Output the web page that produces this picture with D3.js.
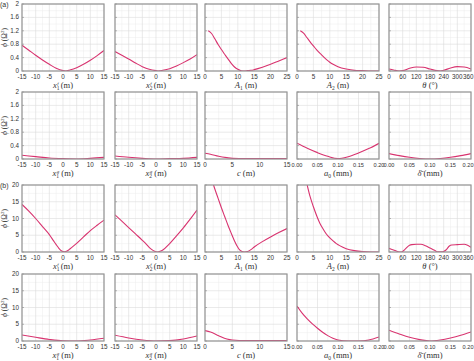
<!DOCTYPE html>
<html><head><meta charset="utf-8">
<script src="https://cdn.jsdelivr.net/npm/d3@7"></script>
<style>body{margin:0;background:#fff}svg{display:block}</style>
</head><body>
<svg id="c" width="474" height="361"></svg>
<script>
// ---------- data ----------
const xTicksPos = [-15,-10,-5,0,5,10,15];
const xTicksA = [0,5,10,15,20,25];
const xTicksTheta = [0,60,120,180,240,300,360];
const xTicksC = [0,5,10,15];
const xTicksMM = [0,0.05,0.10,0.15,0.20];
const yTicksA = [0,0.4,0.8,1.2,1.6,2];
const yTicksB = [0,5,10,15,20];

// (a) row 1
const a_x1f = [[-15,0.77],[-12.5,0.62],[-10,0.47],[-7.5,0.33],[-5,0.2],[-2.5,0.08],[0,0.01],[1,0.0],[2.5,0.03],[5,0.1],[7.5,0.2],[10,0.32],[12.5,0.46],[15,0.61]];
const a_x2f = [[-15,0.58],[-12.5,0.47],[-10,0.36],[-7.5,0.24],[-5,0.13],[-2.5,0.05],[0,0.01],[1,0.0],[2.5,0.02],[5,0.07],[7.5,0.15],[10,0.25],[12.5,0.36],[15,0.49]];
const a_A1 = [[1,1.2],[2,1.12],[3,0.96],[4,0.79],[5,0.64],[6,0.5],[7,0.36],[8,0.23],[9,0.12],[10,0.05],[11,0.01],[12,0.0],[13,0.01],[14,0.02],[15,0.04],[17.5,0.11],[20,0.2],[22.5,0.3],[25,0.4]];
const a_A2 = [[1,1.2],[2,1.13],[3,1.0],[4,0.87],[5,0.75],[6,0.63],[7.5,0.48],[9,0.34],[10,0.26],[11,0.2],[12.5,0.13],[15,0.06],[17.5,0.02],[20,0.01],[22.5,0.0],[25,0.0]];
const a_theta = [[0,0.06],[20,0.03],[45,0.0],[60,0.01],[90,0.08],[120,0.12],[150,0.11],[180,0.06],[210,0.01],[225,0.0],[240,0.02],[270,0.09],[300,0.13],[330,0.12],[360,0.06]];
// (a) row 2
const a_x1g = [[-15,0.11],[-10,0.07],[-5,0.03],[0,0.01],[5,0.0],[10,0.02],[15,0.05]];
const a_x2g = [[-15,0.09],[-10,0.05],[-5,0.02],[0,0.0],[5,0.01],[10,0.02],[15,0.05]];
const a_c = [[0,0.17],[1,0.14],[2.5,0.08],[4,0.04],[5,0.02],[7.5,0.01],[10,0.01],[15,0.01]];
const a_a0 = [[0,0.47],[0.025,0.32],[0.05,0.19],[0.075,0.08],[0.1,0.01],[0.125,0.07],[0.15,0.18],[0.175,0.31],[0.2,0.47]];
const a_delta = [[0,0.16],[0.025,0.1],[0.05,0.05],[0.075,0.015],[0.1,0.0],[0.125,0.015],[0.15,0.05],[0.175,0.1],[0.2,0.16]];
// (b) row 3
const b_x1f = [[-15,14.2],[-12.5,12.2],[-10,10],[-7.5,7.6],[-5,5.2],[-3.5,3.4],[-2.5,2.2],[-1.5,1.1],[-0.5,0.3],[0.5,0.05],[1.5,0.3],[2.5,0.9],[4,1.9],[5,2.6],[7.5,4.5],[10,6.4],[12.5,8.0],[15,9.5]];
const b_x2f = [[-15,11.1],[-12.5,9.2],[-10,7.3],[-7.5,5.4],[-5,3.5],[-3.5,2.3],[-2.5,1.4],[-1.5,0.7],[-0.5,0.2],[0.5,0.0],[1.5,0.2],[2.5,0.6],[5,2.5],[7.5,4.8],[10,7.2],[12.5,9.8],[15,12.5]];
const b_A1 = [[2.6,20],[3,18.8],[4,16],[5,13.2],[6,10.6],[7,8],[8,5.6],[9,3.3],[10,1.4],[10.5,0.7],[11,0.3],[12,0.0],[13,0.15],[14,0.7],[15,1.5],[17.5,3.1],[20,4.5],[22.5,5.8],[25,7.0]];
const b_A2 = [[3.1,20],[4,16.5],[5,13.5],[6,10.8],[7,8.5],[8,6.8],[9,5.3],[10,4.2],[11,3.3],[12,2.5],[13,1.9],[15,1.0],[17.5,0.4],[20,0.1],[22.5,0.0],[25,0.0]];
const b_theta = [[0,1.1],[20,0.6],[40,0.1],[55,0.0],[70,0.8],[90,2.0],[100,2.2],[120,2.3],[140,2.3],[160,1.9],[180,1.2],[200,0.5],[215,0.05],[235,0.05],[250,0.6],[265,1.8],[275,2.1],[300,2.2],[330,2.3],[345,2.0],[360,1.4]];
// (b) row 4
const b_x1g = [[-15,1.8],[-10,1.1],[-5,0.45],[0,0.05],[5,0.0],[10,0.3],[15,0.8]];
const b_x2g = [[-15,1.7],[-10,0.9],[-5,0.3],[0,0.0],[5,0.1],[10,0.6],[15,1.5]];
const b_c = [[0,3.1],[1,2.7],[2.5,1.6],[4,0.6],[5,0.3],[7.5,0.1],[10,0.1],[15,0.15]];
const b_a0 = [[0,10.4],[0.0125,8.3],[0.025,6.6],[0.0375,5.1],[0.05,3.8],[0.0625,2.6],[0.075,1.6],[0.0875,0.8],[0.1,0.3],[0.125,0.0],[0.15,0.0],[0.175,0.3],[0.2,1.2]];
const b_delta = [[0,3.2],[0.025,2.1],[0.05,1.1],[0.075,0.4],[0.1,0.0],[0.125,0.3],[0.15,0.9],[0.175,1.7],[0.2,2.7]];

// ---------- layout ----------
const svg = d3.select("#c");
const colX = [22,115,205,297,389];
const pw = 82;
const rowY = [4,92,185,274];
const ph = 67;
const lineColor = "#d8336f";
const frameColor = "#959595";

const labels1 = [
  {v:"x",sub:"1",sup:"f",u:" (m)"},
  {v:"x",sub:"2",sup:"f",u:" (m)"},
  {v:"A",sub:"1",u:" (m)"},
  {v:"A",sub:"2",u:" (m)"},
  {v:"θ",u:" (°)"}];
const labels2 = [
  {v:"x",sub:"1",sup:"g",u:" (m)"},
  {v:"x",sub:"2",sup:"g",u:" (m)"},
  {v:"c",u:" (m)"},
  {v:"a",sub:"0",u:" (mm)"},
  {v:"δ\u0304",u:" (mm)"}];
const ticks1 = [xTicksPos,xTicksPos,xTicksA,xTicksA,xTicksTheta];
const ticks2 = [xTicksPos,xTicksPos,xTicksC,xTicksMM,xTicksMM];

const rows = [
  {data:[a_x1f,a_x2f,a_A1,a_A2,a_theta], dom:[[-15,15],[-15,15],[0,25],[0,25],[0,360]], ticks:ticks1, labels:labels1, ymax:2, yt:yTicksA},
  {data:[a_x1g,a_x2g,a_c,a_a0,a_delta], dom:[[-15,15],[-15,15],[0,15],[0,0.2],[0,0.2]], ticks:ticks2, labels:labels2, ymax:2, yt:yTicksA},
  {data:[b_x1f,b_x2f,b_A1,b_A2,b_theta], dom:[[-15,15],[-15,15],[0,25],[0,25],[0,360]], ticks:ticks1, labels:labels1, ymax:20, yt:yTicksB},
  {data:[b_x1g,b_x2g,b_c,b_a0,b_delta], dom:[[-15,15],[-15,15],[0,15],[0,0.2],[0,0.2]], ticks:ticks2, labels:labels2, ymax:20, yt:yTicksB}
];

const fmtTick = (ticks) => {
  const isMM = ticks === xTicksMM;
  return v => isMM ? v.toFixed(2) : String(v);
};
const fmtY = v => String(v);
const tickFont = "'Liberation Sans',Arial,sans-serif";

function addLabel(g, lab, x, y){
  const t = g.append("text").attr("x",x).attr("y",y).attr("text-anchor","middle")
    .style("font-family","'Liberation Serif','DejaVu Serif',serif").style("font-size","8.5px").attr("fill","#333");
  t.append("tspan").style("font-style","italic").text(lab.v);
  if(lab.sub){
    t.append("tspan").attr("dy",2).style("font-size","5.5px").text(lab.sub);
    if(lab.sup){
      t.append("tspan").attr("dx",-2.2).attr("dy",-5).style("font-size","5px").style("font-style","italic").text(lab.sup);
      t.append("tspan").attr("dy",3).text(lab.u);
    } else {
      t.append("tspan").attr("dy",-2).text(lab.u);
    }
  } else {
    t.append("tspan").text(lab.u);
  }
}

let clipId = 0;
rows.forEach((row, ri) => {
  const top = rowY[ri];
  const y = d3.scaleLinear().domain([0,row.ymax]).range([top+ph, top]);
  row.data.forEach((data, ci) => {
    const left = colX[ci];
    const x = d3.scaleLinear().domain(row.dom[ci]).range([left, left+pw]);
    const g = svg.append("g");
    const xt = row.ticks[ci];
    const xMinor = [];
    for(let i=0;i<xt.length-1;i++) xMinor.push((xt[i]+xt[i+1])/2);
    const yMinor = [];
    for(let i=0;i<row.yt.length-1;i++) yMinor.push((row.yt[i]+row.yt[i+1])/2);
    g.selectAll(".gxm").data(xMinor).join("line")
      .attr("x1",d=>x(d)).attr("x2",d=>x(d)).attr("y1",top).attr("y2",top+ph)
      .attr("stroke","#ededed").attr("stroke-width",0.5);
    g.selectAll(".gym").data(yMinor).join("line")
      .attr("y1",d=>y(d)).attr("y2",d=>y(d)).attr("x1",left).attr("x2",left+pw)
      .attr("stroke","#ededed").attr("stroke-width",0.5);
    g.selectAll(".gx").data(xt).join("line")
      .attr("x1",d=>x(d)).attr("x2",d=>x(d)).attr("y1",top).attr("y2",top+ph)
      .attr("stroke","#dcdcdc").attr("stroke-width",0.6);
    g.selectAll(".gy").data(row.yt).join("line")
      .attr("y1",d=>y(d)).attr("y2",d=>y(d)).attr("x1",left).attr("x2",left+pw)
      .attr("stroke","#dcdcdc").attr("stroke-width",0.6);
    g.selectAll(".ty").data(row.yt).join("line")
      .attr("y1",d=>y(d)).attr("y2",d=>y(d)).attr("x1",left).attr("x2",left+2)
      .attr("stroke","#888").attr("stroke-width",0.6);
    const cid = "clip"+(clipId++);
    svg.append("clipPath").attr("id",cid).append("rect")
      .attr("x",left).attr("y",top).attr("width",pw).attr("height",ph);
    const line = d3.line().x(d=>x(d[0])).y(d=>y(d[1])).curve(d3.curveMonotoneX);
    g.append("path").attr("d",line(data)).attr("fill","none")
      .attr("stroke",lineColor).attr("stroke-width",1.1).attr("clip-path",`url(#${cid})`);
    g.append("rect").attr("x",left).attr("y",top).attr("width",pw).attr("height",ph)
      .attr("fill","none").attr("stroke",frameColor).attr("stroke-width",1.2);
    const f = fmtTick(xt);
    const isMM = xt === xTicksMM;
    const tl = g.selectAll(".xl").data(xt).join("text")
      .attr("x",d=>x(d))
      .attr("y",top+ph+8)
      .attr("text-anchor","middle")
      .style("font-family",tickFont).style("font-size", isMM ? "5.6px" : "6.3px").attr("fill","#333")
      .text(f);
    // keep labels inside the picture
    tl.each(function(d){
      const w = this.getComputedTextLength();
      const cx = x(d);
      if(cx + w/2 > 473.5) d3.select(this).attr("x", 473.5 - w/2);
    });
    addLabel(g, row.labels[ci], left+pw/2, top+ph+17);
    if(ci===0){
      g.selectAll(".yl").data(row.yt).join("text")
        .attr("x",left-3).attr("y",d=>y(d)+2).attr("text-anchor","end")
        .style("font-family",tickFont).style("font-size","6.3px").attr("fill","#333")
        .text(fmtY);
      const yl = g.append("text").attr("transform",`translate(${7},${top+ph/2}) rotate(-90)`)
        .attr("text-anchor","middle")
        .style("font-family","'Liberation Serif','DejaVu Serif',serif").style("font-size","7.5px").attr("fill","#333");
      yl.append("tspan").style("font-style","italic").text("ϕ");
      yl.append("tspan").text(" (Ω");
      yl.append("tspan").attr("dy",-3).style("font-size","5px").text("2");
      yl.append("tspan").attr("dy",3).text(")");
    }
  });
});
svg.append("text").attr("x",0).attr("y",7).style("font-family",tickFont).style("font-size","7px").attr("fill","#333").text("(a)");
svg.append("text").attr("x",0).attr("y",188).style("font-family",tickFont).style("font-size","7px").attr("fill","#333").text("(b)");
</script>
</body></html>
